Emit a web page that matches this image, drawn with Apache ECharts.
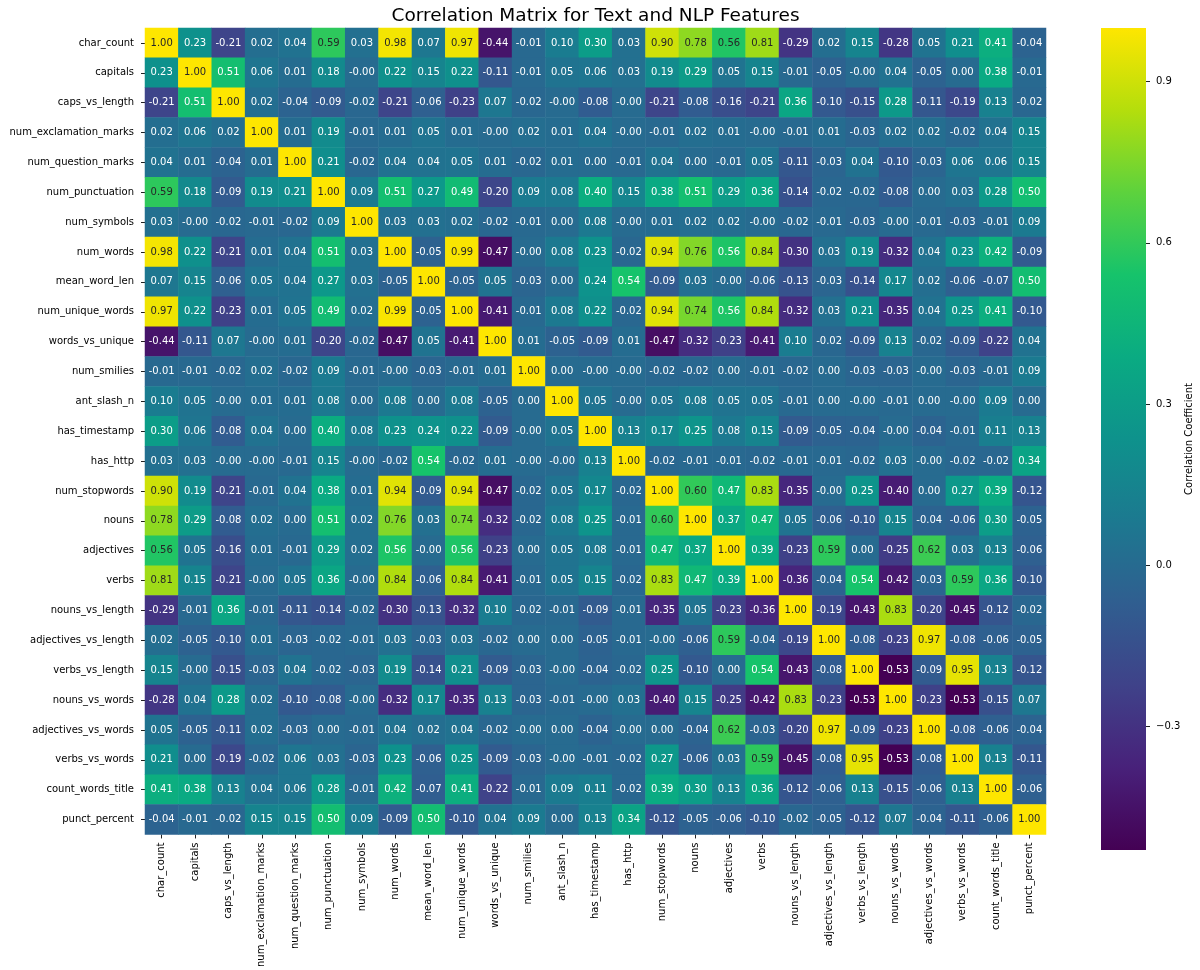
<!DOCTYPE html>
<html>
<head>
<meta charset="utf-8">
<script src="https://cdn.jsdelivr.net/npm/echarts@6/dist/echarts.min.js"></script>
<style>
html,body{margin:0;padding:0;background:#fff;}
#chart{width:1200px;height:970px;}
</style>
</head>
<body>
<div id="chart"></div>
<script>
const titleText = 'Correlation Matrix for Text and NLP Features';
const colorbarName = 'Correlation Coefficient';
const labels = ['char_count','capitals','caps_vs_length','num_exclamation_marks','num_question_marks','num_punctuation','num_symbols','num_words','mean_word_len','num_unique_words','words_vs_unique','num_smilies','ant_slash_n','has_timestamp','has_http','num_stopwords','nouns','adjectives','verbs','nouns_vs_length','adjectives_vs_length','verbs_vs_length','nouns_vs_words','adjectives_vs_words','verbs_vs_words','count_words_title','punct_percent'];
const colorbarTicks = [-0.3, 0.0, 0.3, 0.6, 0.9];
const corr = [
[1.00,0.23,-0.21,0.02,0.04,0.59,0.03,0.98,0.07,0.97,-0.44,-0.01,0.10,0.30,0.03,0.90,0.78,0.564,0.81,-0.29,0.02,0.15,-0.28,0.05,0.21,0.41,-0.04],
[0.23,1.00,0.51,0.06,0.01,0.18,-0.00,0.22,0.15,0.22,-0.11,-0.01,0.05,0.06,0.03,0.19,0.29,0.05,0.15,-0.01,-0.05,-0.00,0.04,-0.05,0.00,0.38,-0.01],
[-0.21,0.51,1.00,0.02,-0.04,-0.09,-0.02,-0.21,-0.06,-0.23,0.07,-0.02,-0.00,-0.08,-0.00,-0.21,-0.08,-0.16,-0.21,0.36,-0.10,-0.15,0.28,-0.11,-0.19,0.13,-0.02],
[0.02,0.06,0.02,1.00,0.01,0.19,-0.01,0.01,0.05,0.01,-0.00,0.02,0.01,0.04,-0.00,-0.01,0.02,0.01,-0.00,-0.01,0.01,-0.03,0.02,0.02,-0.02,0.04,0.15],
[0.04,0.01,-0.04,0.01,1.00,0.21,-0.02,0.04,0.04,0.05,0.01,-0.02,0.01,0.00,-0.01,0.04,0.00,-0.01,0.05,-0.11,-0.03,0.04,-0.10,-0.03,0.06,0.06,0.15],
[0.59,0.18,-0.09,0.19,0.21,1.00,0.09,0.51,0.27,0.49,-0.20,0.09,0.08,0.40,0.15,0.38,0.51,0.29,0.36,-0.14,-0.02,-0.02,-0.08,0.00,0.03,0.28,0.50],
[0.03,-0.00,-0.02,-0.01,-0.02,0.09,1.00,0.03,0.03,0.02,-0.02,-0.01,0.00,0.08,-0.00,0.01,0.02,0.02,-0.00,-0.02,-0.01,-0.03,-0.00,-0.01,-0.03,-0.01,0.09],
[0.98,0.22,-0.21,0.01,0.04,0.51,0.03,1.00,-0.05,0.99,-0.47,-0.00,0.08,0.23,-0.02,0.94,0.76,0.556,0.84,-0.30,0.03,0.19,-0.32,0.04,0.23,0.42,-0.09],
[0.07,0.15,-0.06,0.05,0.04,0.27,0.03,-0.05,1.00,-0.05,0.05,-0.03,0.00,0.24,0.54,-0.09,0.03,-0.00,-0.06,-0.13,-0.03,-0.14,0.17,0.02,-0.06,-0.07,0.50],
[0.97,0.22,-0.23,0.01,0.05,0.49,0.02,0.99,-0.05,1.00,-0.41,-0.01,0.08,0.22,-0.02,0.94,0.74,0.556,0.84,-0.32,0.03,0.21,-0.35,0.04,0.25,0.41,-0.10],
[-0.44,-0.11,0.07,-0.00,0.01,-0.20,-0.02,-0.47,0.05,-0.41,1.00,0.01,-0.05,-0.09,0.01,-0.47,-0.32,-0.23,-0.41,0.10,-0.02,-0.09,0.13,-0.02,-0.09,-0.22,0.04],
[-0.01,-0.01,-0.02,0.02,-0.02,0.09,-0.01,-0.00,-0.03,-0.01,0.01,1.00,0.00,-0.00,-0.00,-0.02,-0.02,0.00,-0.01,-0.02,0.00,-0.03,-0.03,-0.00,-0.03,-0.01,0.09],
[0.10,0.05,-0.00,0.01,0.01,0.08,0.00,0.08,0.00,0.08,-0.05,0.00,1.00,0.05,-0.00,0.05,0.08,0.05,0.05,-0.01,0.00,-0.00,-0.01,0.00,-0.00,0.09,0.00],
[0.30,0.06,-0.08,0.04,0.00,0.40,0.08,0.23,0.24,0.22,-0.09,-0.00,0.05,1.00,0.13,0.17,0.25,0.08,0.15,-0.09,-0.05,-0.04,-0.00,-0.04,-0.01,0.11,0.13],
[0.03,0.03,-0.00,-0.00,-0.01,0.15,-0.00,-0.02,0.54,-0.02,0.01,-0.00,-0.00,0.13,1.00,-0.02,-0.01,-0.01,-0.02,-0.01,-0.01,-0.02,0.03,-0.00,-0.02,-0.02,0.34],
[0.90,0.19,-0.21,-0.01,0.04,0.38,0.01,0.94,-0.09,0.94,-0.47,-0.02,0.05,0.17,-0.02,1.00,0.60,0.47,0.83,-0.35,-0.00,0.25,-0.40,0.00,0.27,0.39,-0.12],
[0.78,0.29,-0.08,0.02,0.00,0.51,0.02,0.76,0.03,0.74,-0.32,-0.02,0.08,0.25,-0.01,0.60,1.00,0.37,0.47,0.05,-0.06,-0.10,0.15,-0.04,-0.06,0.30,-0.05],
[0.564,0.05,-0.16,0.01,-0.01,0.29,0.02,0.556,-0.00,0.556,-0.23,0.00,0.05,0.08,-0.01,0.47,0.37,1.00,0.39,-0.23,0.59,0.00,-0.25,0.62,0.03,0.13,-0.06],
[0.81,0.15,-0.21,-0.00,0.05,0.36,-0.00,0.84,-0.06,0.84,-0.41,-0.01,0.05,0.15,-0.02,0.83,0.47,0.39,1.00,-0.36,-0.04,0.54,-0.42,-0.03,0.59,0.36,-0.10],
[-0.29,-0.01,0.36,-0.01,-0.11,-0.14,-0.02,-0.30,-0.13,-0.32,0.10,-0.02,-0.01,-0.09,-0.01,-0.35,0.05,-0.23,-0.36,1.00,-0.19,-0.43,0.83,-0.20,-0.45,-0.12,-0.02],
[0.02,-0.05,-0.10,0.01,-0.03,-0.02,-0.01,0.03,-0.03,0.03,-0.02,0.00,0.00,-0.05,-0.01,-0.00,-0.06,0.59,-0.04,-0.19,1.00,-0.08,-0.23,0.97,-0.08,-0.06,-0.05],
[0.15,-0.00,-0.15,-0.03,0.04,-0.02,-0.03,0.19,-0.14,0.21,-0.09,-0.03,-0.00,-0.04,-0.02,0.25,-0.10,0.00,0.54,-0.43,-0.08,1.00,-0.53,-0.09,0.95,0.13,-0.12],
[-0.28,0.04,0.28,0.02,-0.10,-0.08,-0.00,-0.32,0.17,-0.35,0.13,-0.03,-0.01,-0.00,0.03,-0.40,0.15,-0.25,-0.42,0.83,-0.23,-0.53,1.00,-0.23,-0.53,-0.15,0.07],
[0.05,-0.05,-0.11,0.02,-0.03,0.00,-0.01,0.04,0.02,0.04,-0.02,-0.00,0.00,-0.04,-0.00,0.00,-0.04,0.62,-0.03,-0.20,0.97,-0.09,-0.23,1.00,-0.08,-0.06,-0.04],
[0.21,0.00,-0.19,-0.02,0.06,0.03,-0.03,0.23,-0.06,0.25,-0.09,-0.03,-0.00,-0.01,-0.02,0.27,-0.06,0.03,0.59,-0.45,-0.08,0.95,-0.53,-0.08,1.00,0.13,-0.11],
[0.41,0.38,0.13,0.04,0.06,0.28,-0.01,0.42,-0.07,0.41,-0.22,-0.01,0.09,0.11,-0.02,0.39,0.30,0.13,0.36,-0.12,-0.06,0.13,-0.15,-0.06,0.13,1.00,-0.06],
[-0.04,-0.01,-0.02,0.15,0.15,0.50,0.09,-0.09,0.50,-0.10,0.04,0.09,0.00,0.13,0.34,-0.12,-0.05,-0.06,-0.10,-0.02,-0.05,-0.12,0.07,-0.04,-0.11,-0.06,1.00]
];

// viridis, slightly more saturated to match the reference rendering
const viridis = ['#440154','#48217a','#3f4289','#305e90','#1c7990','#0e928c','#0aab82','#16c36b','#5dd23d','#b4de0c','#fee600'];
const FONT = 'DejaVu Sans';

let vmin = Infinity, vmax = -Infinity;
corr.forEach(r => r.forEach(v => { vmin = Math.min(vmin, v); vmax = Math.max(vmax, v); }));

const fmt = v => Object.is(v, -0) ? '-0.00' : v.toFixed(2);

const cells = [];
for (let i = 0; i < corr.length; i++) {
  for (let j = 0; j < corr[i].length; j++) {
    const v = corr[i][j];
    cells.push({
      value: [j, i, v],
      label: { color: v >= 0.56 ? '#262626' : '#ffffff' }
    });
  }
}

const GX = 145, GY = 28, GW = 901, GH = 822;
const CBX = 1101, CBW = 45;

const gradStops = viridis.map((c, k) => ({ offset: k / (viridis.length - 1), color: c }));

const chart = echarts.init(document.getElementById('chart'), null, { renderer: 'canvas' });
chart.setOption({
  animation: false,
  backgroundColor: '#ffffff',
  graphic: [
    {
      type: 'text', x: GX + GW / 2, y: 16,
      style: { text: titleText, fontFamily: FONT, fontSize: 18.5, fill: '#000', textAlign: 'center', textVerticalAlign: 'middle' }
    },
    {
      type: 'rect', shape: { x: CBX, y: GY, width: CBW, height: GH },
      style: { fill: new echarts.graphic.LinearGradient(0, 1, 0, 0, gradStops) },
      silent: true, z: -10
    }
  ],
  grid: [
    { left: GX, top: GY, width: GW, height: GH },
    { left: CBX, top: GY, width: CBW, height: GH }
  ],
  xAxis: [
    {
      type: 'category', data: labels, gridIndex: 0, position: 'bottom',
      axisLine: { show: false },
      axisTick: { show: true, alignWithLabel: true, length: 4, lineStyle: { color: '#222', width: 1 } },
      axisLabel: { rotate: 90, interval: 0, margin: 8, fontFamily: FONT, fontSize: 10, color: '#000' },
      splitLine: { show: false }
    },
    { type: 'value', gridIndex: 1, show: false, min: 0, max: 1 }
  ],
  yAxis: [
    {
      type: 'category', data: labels, gridIndex: 0, inverse: true, position: 'left',
      axisLine: { show: false },
      axisTick: { show: true, alignWithLabel: true, length: 4, lineStyle: { color: '#222', width: 1 } },
      axisLabel: { interval: 0, margin: 11, fontFamily: FONT, fontSize: 10, color: '#000' },
      splitLine: { show: false }
    },
    {
      type: 'value', gridIndex: 1, position: 'right', min: vmin, max: vmax, z: 10,
      axisLine: { show: false, onZero: false },
      splitLine: { show: false },
      minorTick: { show: false },
      axisTick: { show: true, inside: false, length: 4, customValues: colorbarTicks, lineStyle: { color: '#222', width: 1 } },
      axisLabel: {
        customValues: colorbarTicks, margin: 10, fontFamily: FONT, fontSize: 10, color: '#000',
        formatter: v => v.toFixed(1).replace('-', '\u2212')
      },
      name: colorbarName, nameLocation: 'middle', nameGap: 33, nameRotate: 90,
      nameTextStyle: { fontFamily: FONT, fontSize: 10, color: '#000' }
    }
  ],
  visualMap: {
    type: 'continuous', min: vmin, max: vmax, show: false,
    inRange: { color: viridis },
    seriesIndex: 0
  },
  series: [{
    type: 'heatmap', xAxisIndex: 0, yAxisIndex: 0,
    data: cells,
    itemStyle: { borderWidth: 0 },
    label: {
      show: true, fontFamily: FONT, fontSize: 10,
      formatter: p => fmt(corr[p.value[1]][p.value[0]])
    },
    emphasis: { disabled: true }
  }]
});
</script>
</body>
</html>
